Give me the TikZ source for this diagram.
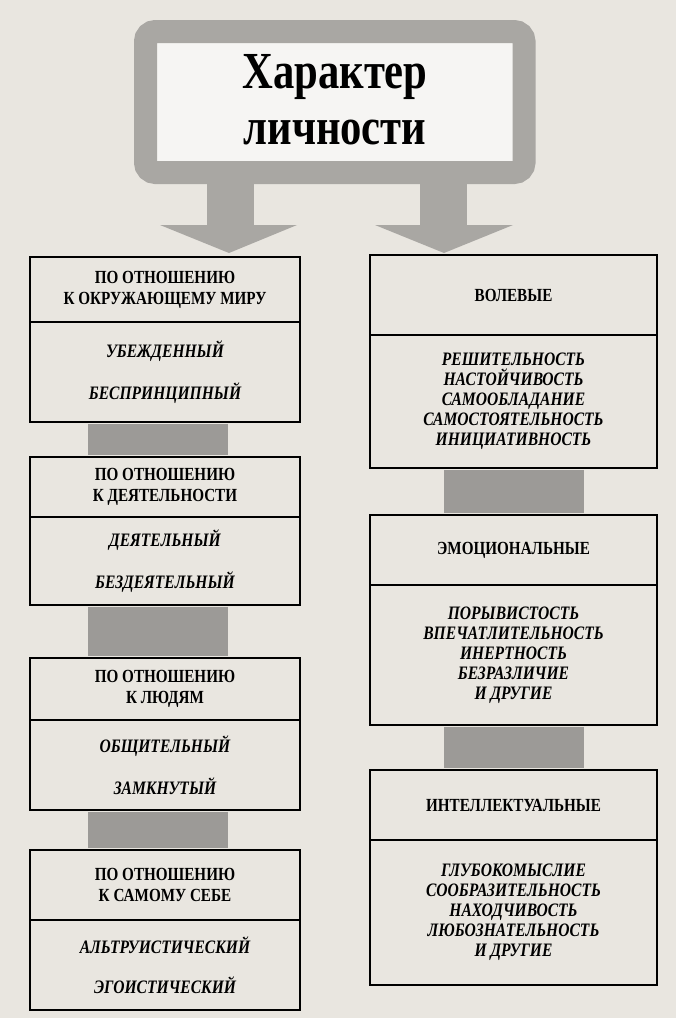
\documentclass[tikz,border=0pt]{standalone}
\usepackage{fontspec}
\setmainfont{Liberation Serif}[FakeStretch=0.82]
\usetikzlibrary{positioning}
\definecolor{paper}{HTML}{E9E6E0}
\definecolor{bargray}{HTML}{9C9A97}
\definecolor{framegray}{HTML}{A9A7A3}
\tikzset{
  head/.style={draw,line width=1.6pt,fill=paper,minimum width=#1,inner sep=2pt,
    font=\bfseries\fontsize{18.5}{21}\selectfont,align=center},
  body/.style={draw,line width=1.6pt,fill=paper,minimum width=#1,inner sep=2pt,
    font=\bfseries\itshape\fontsize{19}{20}\selectfont,align=center},
  bar/.style={draw=bargray,line width=140pt}
}
\begin{document}
\begin{tikzpicture}[x=1pt,y=-1pt]
\fill[paper] (0,0) rectangle (676,1018);
\useasboundingbox (0,0) rectangle (676,1018);
% title frame and arrows
\fill[framegray] (207,180) rectangle (254,226);
\fill[framegray] (160,225) -- (297,225) -- (229,253) -- cycle;
\fill[framegray] (420,180) rectangle (467,226);
\fill[framegray] (375,225) -- (513,225) -- (444,253) -- cycle;
\draw[framegray,line width=23pt,rounded corners=10pt,fill=white!60!paper] (145.5,31.5) rectangle (524,172.5);
\node[font=\bfseries\fontsize{52}{56}\selectfont,align=center] (title) at (335,100) {Характер\\личности};
% left column
\node[head=270pt,minimum height=65pt] (lh1) at (165,289.5) {ПО ОТНОШЕНИЮ\\К ОКРУЖАЮЩЕМУ МИРУ};
\node[body=270pt,minimum height=100pt] (lb1) at (165,372) {УБЕЖДЕННЫЙ\\[20pt]БЕСПРИНЦИПНЫЙ};
\node[head=270pt,minimum height=60pt] (lh2) at (165,487) {ПО ОТНОШЕНИЮ\\К ДЕЯТЕЛЬНОСТИ};
\node[body=270pt,minimum height=88pt] (lb2) at (165,561) {ДЕЯТЕЛЬНЫЙ\\[20pt]БЕЗДЕЯТЕЛЬНЫЙ};
\node[head=270pt,minimum height=62pt] (lh3) at (165,689) {ПО ОТНОШЕНИЮ\\К ЛЮДЯМ};
\node[body=270pt,minimum height=90pt] (lb3) at (165,765) {ОБЩИТЕЛЬНЫЙ\\[20pt]ЗАМКНУТЫЙ};
\node[head=270pt,minimum height=70pt] (lh4) at (165,885) {ПО ОТНОШЕНИЮ\\К САМОМУ СЕБЕ};
\node[body=270pt,minimum height=90pt] (lb4) at (165,965) {АЛЬТРУИСТИЧЕСКИЙ\\[20pt]ЭГОИСТИЧЕСКИЙ};
% right column
\node[head=287pt,minimum height=80pt] (rh1) at (513.5,295) {ВОЛЕВЫЕ};
\node[body=287pt,minimum height=133pt] (rb1) at (513.5,401.5) {РЕШИТЕЛЬНОСТЬ\\НАСТОЙЧИВОСТЬ\\САМООБЛАДАНИЕ\\САМОСТОЯТЕЛЬНОСТЬ\\ИНИЦИАТИВНОСТЬ};
\node[head=287pt,minimum height=70pt] (rh2) at (513.5,550) {ЭМОЦИОНАЛЬНЫЕ};
\node[body=287pt,minimum height=140pt] (rb2) at (513.5,655) {ПОРЫВИСТОСТЬ\\ВПЕЧАТЛИТЕЛЬНОСТЬ\\ИНЕРТНОСТЬ\\БЕЗРАЗЛИЧИЕ\\И ДРУГИЕ};
\node[head=287pt,minimum height=70pt] (rh3) at (513.5,805) {ИНТЕЛЛЕКТУАЛЬНЫЕ};
\node[body=287pt,minimum height=145pt] (rb3) at (513.5,912.5) {ГЛУБОКОМЫСЛИЕ\\СООБРАЗИТЕЛЬНОСТЬ\\НАХОДЧИВОСТЬ\\ЛЮБОЗНАТЕЛЬНОСТЬ\\И ДРУГИЕ};
% gray links
\path[bar] ([xshift=-7pt,yshift=-1pt]lb1.south) -- ([xshift=-7pt,yshift=1pt]lh2.north);
\path[bar] ([xshift=-7pt,yshift=-1pt]lb2.south) -- ([xshift=-7pt,yshift=1pt]lh3.north);
\path[bar] ([xshift=-7pt,yshift=-1pt]lb3.south) -- ([xshift=-7pt,yshift=1pt]lh4.north);
\path[bar] ([yshift=-1pt]rb1.south) -- ([yshift=1pt]rh2.north);
\path[bar] ([yshift=-1pt]rb2.south) -- ([yshift=1pt]rh3.north);
\end{tikzpicture}
\end{document}
